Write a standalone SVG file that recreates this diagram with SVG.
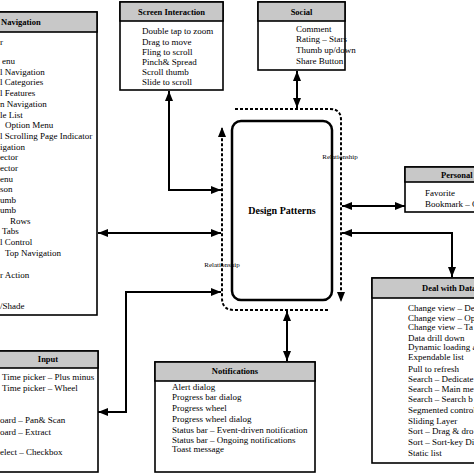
<svg xmlns="http://www.w3.org/2000/svg" width="474" height="474" viewBox="0 0 474 474">
<style>
.box{fill:#fff;stroke:#000;stroke-width:1.6}
.hdr{fill:#c8c8c8;stroke:#000;stroke-width:1.6}
.t{font-family:"Liberation Serif",serif;font-size:9px;fill:#000}
.h{font-family:"Liberation Serif",serif;font-size:8.5px;font-weight:bold;fill:#000}
.c{fill:none;stroke:#000;stroke-width:2}
.d{fill:none;stroke:#000;stroke-width:2;stroke-dasharray:3,2}
.r{font-family:"Liberation Serif",serif;font-size:7px;fill:#000}
</style>
<defs>
<marker id="ah" markerUnits="userSpaceOnUse" markerWidth="10" markerHeight="8" refX="10" refY="4" orient="auto-start-reverse" viewBox="0 0 10 8">
<path d="M0,0 L10,4 L0,8 z" fill="#000"/>
</marker>
</defs>
<rect width="474" height="474" fill="#fff"/>

<g id="design-patterns">
<rect x="232" y="121" width="100" height="179" rx="9" fill="#fff" stroke="#000" stroke-width="2.5"/>
<text x="282" y="214" text-anchor="middle" font-family="Liberation Serif,serif" font-size="10px" font-weight="bold">Design Patterns</text>
</g>

<g id="connectors">
<path class="c" d="M169,91 V190 H221" marker-start="url(#ah)" marker-end="url(#ah)"/>
<path class="c" d="M297,71 V108" marker-start="url(#ah)" marker-end="url(#ah)"/>
<path class="c" d="M98,233 H221" marker-start="url(#ah)" marker-end="url(#ah)"/>
<path class="c" d="M98,412 H126 V292 H221" marker-start="url(#ah)" marker-end="url(#ah)"/>
<path class="c" d="M287,311 V361" marker-start="url(#ah)" marker-end="url(#ah)"/>
<path class="c" d="M342,206 H405" marker-start="url(#ah)" marker-end="url(#ah)"/>
<path class="c" d="M342,233 H452 V277" marker-start="url(#ah)" marker-end="url(#ah)"/>
<path class="d" d="M235,109 H330 Q341,109 341,120 V302" marker-end="url(#ah)"/>
<path class="d" d="M328,310 H234 Q222,310 222,298 V127" marker-end="url(#ah)"/>
<text class="r" x="340" y="159" text-anchor="middle">Relationship</text>
<text class="r" x="222" y="267" text-anchor="middle">Relationship</text>
</g>

<g id="navigation">
<rect class="box" x="-5" y="12" width="102" height="303"/>
<rect class="hdr" x="-5" y="12" width="102" height="20"/>
<text class="h" x="1" y="25">Navigation</text>
<text class="t" x="0" y="45">r</text>
<text class="t" x="2" y="64">enu</text>
<text class="t" x="0" y="75">l Navigation</text>
<text class="t" x="0" y="85">l Categories</text>
<text class="t" x="0" y="96">l Features</text>
<text class="t" x="0" y="107">n Navigation</text>
<text class="t" x="0" y="118">le List</text>
<text class="t" x="5" y="128">Option Menu</text>
<text class="t" x="0" y="139">l Scrolling Page Indicator</text>
<text class="t" x="0" y="150">igation</text>
<text class="t" x="0" y="160">ector</text>
<text class="t" x="0" y="171">ector</text>
<text class="t" x="0" y="182">enu</text>
<text class="t" x="0" y="192">son</text>
<text class="t" x="0" y="203">umb</text>
<text class="t" x="0" y="213">umb</text>
<text class="t" x="10" y="224">Rows</text>
<text class="t" x="2" y="234">Tabs</text>
<text class="t" x="0" y="245">l Control</text>
<text class="t" x="5" y="256">Top Navigation</text>
<text class="t" x="0" y="278">r Action</text>
<text class="t" x="0" y="309">/Shade</text>
</g>

<g id="screen-interaction">
<rect class="box" x="120" y="2" width="103" height="88"/>
<rect class="hdr" x="120" y="2" width="103" height="19"/>
<text class="h" x="171.5" y="15" text-anchor="middle">Screen Interaction</text>
<text class="t" x="142" y="34">Double tap to zoom</text>
<text class="t" x="142" y="45">Drag to move</text>
<text class="t" x="142" y="55">Fling to scroll</text>
<text class="t" x="142" y="65">Pinch&amp; Spread</text>
<text class="t" x="142" y="75">Scroll thumb</text>
<text class="t" x="142" y="85">Slide to scroll</text>
</g>

<g id="social">
<rect class="box" x="258" y="2" width="87" height="68"/>
<rect class="hdr" x="258" y="2" width="87" height="19"/>
<text class="h" x="301.5" y="15" text-anchor="middle">Social</text>
<text class="t" x="296" y="32">Comment</text>
<text class="t" x="296" y="42">Rating – Stars</text>
<text class="t" x="296" y="53">Thumb up/down</text>
<text class="t" x="296" y="64">Share Button</text>
</g>

<g id="personal">
<rect class="box" x="405" y="167" width="75" height="45"/>
<rect class="hdr" x="405" y="167" width="75" height="15"/>
<text class="h" x="441" y="178">Personal</text>
<text class="t" x="425" y="196">Favorite</text>
<text class="t" x="425" y="207">Bookmark – C</text>
</g>

<g id="deal-with-data">
<rect class="box" x="372" y="278" width="110" height="185"/>
<rect class="hdr" x="372" y="278" width="110" height="20"/>
<text class="h" x="422" y="291">Deal with Data</text>
<text class="t" x="408" y="311">Change view – De</text>
<text class="t" x="408" y="321">Change view – Op</text>
<text class="t" x="408" y="330">Change view – Ta</text>
<text class="t" x="408" y="341">Data drill down</text>
<text class="t" x="408" y="350">Dynamic loading a</text>
<text class="t" x="408" y="360">Expendable list</text>
<text class="t" x="408" y="372">Pull to refresh</text>
<text class="t" x="408" y="382">Search – Dedicate</text>
<text class="t" x="408" y="392">Search – Main me</text>
<text class="t" x="408" y="402">Search – Search b</text>
<text class="t" x="408" y="413">Segmented control</text>
<text class="t" x="408" y="424">Sliding Layer</text>
<text class="t" x="408" y="434">Sort – Drag &amp; dro</text>
<text class="t" x="408" y="445">Sort – Sort-key Di</text>
<text class="t" x="408" y="456">Static list</text>
</g>

<g id="input">
<rect class="box" x="-5" y="351" width="103" height="121"/>
<rect class="hdr" x="-5" y="351" width="103" height="17"/>
<text class="h" x="48" y="362" text-anchor="middle">Input</text>
<text class="t" x="2" y="380">Time picker – Plus minus</text>
<text class="t" x="2" y="391">Time picker – Wheel</text>
<text class="t" x="0" y="423">oard – Pan&amp; Scan</text>
<text class="t" x="0" y="435">oard – Extract</text>
<text class="t" x="0" y="455">elect – Checkbox</text>
</g>

<g id="notifications">
<rect class="box" x="155" y="362" width="160" height="110"/>
<rect class="hdr" x="155" y="362" width="160" height="19"/>
<text class="h" x="235" y="374" text-anchor="middle">Notifications</text>
<text class="t" x="172" y="390">Alert dialog</text>
<text class="t" x="172" y="400">Progress bar dialog</text>
<text class="t" x="172" y="411">Progress wheel</text>
<text class="t" x="172" y="422">Progress wheel dialog</text>
<text class="t" x="172" y="433">Status bar – Event-driven notification</text>
<text class="t" x="172" y="443">Status bar – Ongoing notifications</text>
<text class="t" x="172" y="452">Toast message</text>
</g>
</svg>
